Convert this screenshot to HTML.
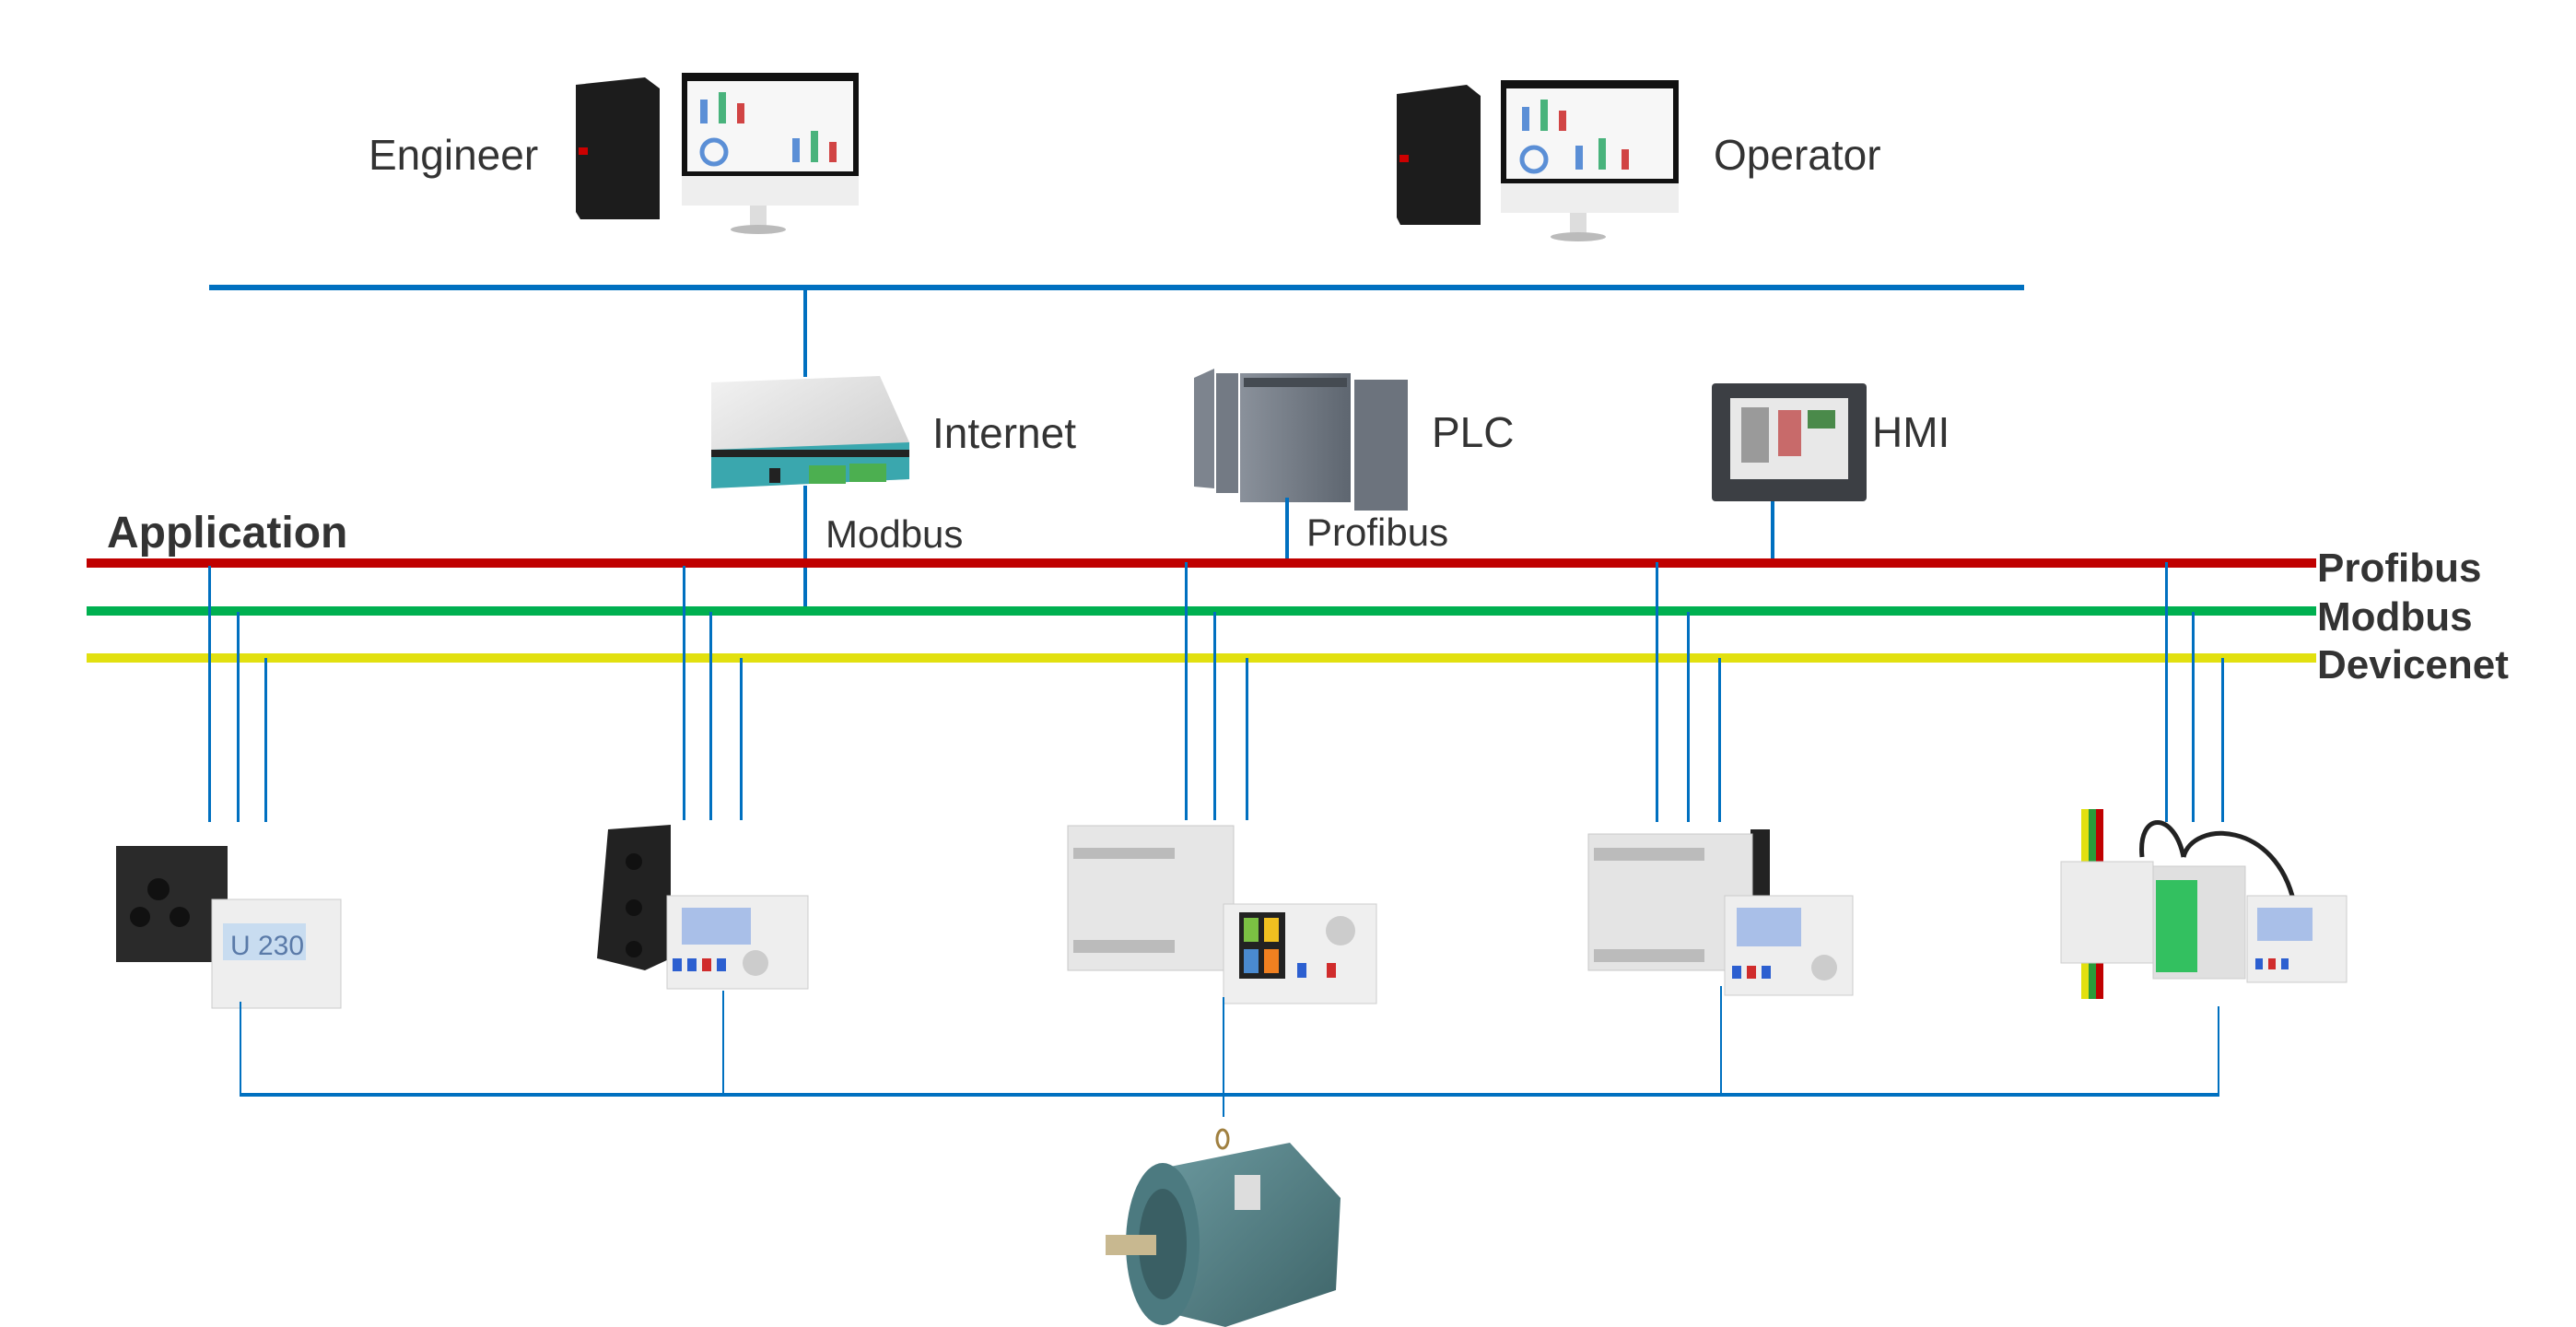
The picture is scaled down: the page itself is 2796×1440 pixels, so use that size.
<!DOCTYPE html>
<html><head><meta charset="utf-8"><style>
html,body{margin:0;padding:0;background:#fff;}
svg{display:block;}
text{font-family:"Liberation Sans",Arial,sans-serif;fill:#333;}
</style></head><body>
<svg width="2796" height="1440" viewBox="0 0 2796 1440" xmlns="http://www.w3.org/2000/svg">
<defs>
<linearGradient id="silver" x1="0" y1="0" x2="1" y2="1"><stop offset="0" stop-color="#f2f2f2"/><stop offset="1" stop-color="#c8c8c8"/></linearGradient>
<linearGradient id="plc" x1="0" y1="0" x2="1" y2="0"><stop offset="0" stop-color="#8a919b"/><stop offset="1" stop-color="#5e6670"/></linearGradient>
<linearGradient id="motor" x1="0" y1="0" x2="1" y2="1"><stop offset="0" stop-color="#6c9aa0"/><stop offset="1" stop-color="#3e6468"/></linearGradient>
</defs>

<!-- Engineer workstation -->
<text x="400" y="184" font-size="46">Engineer</text>
<polygon points="625,92 700,84 716,96 716,238 630,238 625,230" fill="#1c1c1c"/>
<rect x="628" y="160" width="10" height="8" fill="#c00"/>
<rect x="740" y="79" width="192" height="112" fill="#111"/>
<rect x="746" y="88" width="180" height="98" fill="#f7f7f7"/>
<rect x="760" y="108" width="8" height="26" fill="#5b8fd6"/><rect x="780" y="100" width="8" height="34" fill="#49b37c"/><rect x="800" y="112" width="8" height="22" fill="#d14444"/>
<rect x="860" y="150" width="8" height="26" fill="#5b8fd6"/><rect x="880" y="142" width="8" height="34" fill="#49b37c"/><rect x="900" y="154" width="8" height="22" fill="#d14444"/>
<circle cx="775" cy="165" r="13" fill="none" stroke="#5b8fd6" stroke-width="5"/>
<rect x="740" y="191" width="192" height="32" fill="#eeeeee"/>
<rect x="814" y="223" width="18" height="24" fill="#ddd"/>
<ellipse cx="823" cy="249" rx="30" ry="5" fill="#bbb"/>

<!-- Operator workstation -->
<polygon points="1516,102 1592,92 1607,104 1607,244 1520,244 1516,236" fill="#1c1c1c"/>
<rect x="1519" y="168" width="10" height="8" fill="#c00"/>
<rect x="1629" y="87" width="193" height="112" fill="#111"/>
<rect x="1635" y="96" width="181" height="98" fill="#f7f7f7"/>
<rect x="1652" y="116" width="8" height="26" fill="#5b8fd6"/><rect x="1672" y="108" width="8" height="34" fill="#49b37c"/><rect x="1692" y="120" width="8" height="22" fill="#d14444"/>
<rect x="1710" y="158" width="8" height="26" fill="#5b8fd6"/><rect x="1735" y="150" width="8" height="34" fill="#49b37c"/><rect x="1760" y="162" width="8" height="22" fill="#d14444"/>
<circle cx="1665" cy="173" r="13" fill="none" stroke="#5b8fd6" stroke-width="5"/>
<rect x="1629" y="199" width="193" height="32" fill="#eeeeee"/>
<rect x="1704" y="231" width="18" height="24" fill="#ddd"/>
<ellipse cx="1713" cy="257" rx="30" ry="5" fill="#bbb"/>
<text x="1860" y="184" font-size="46">Operator</text>

<!-- top blue bus -->
<rect x="227" y="309" width="1970" height="6" fill="#0070c0"/>
<rect x="872" y="315" width="4" height="94" fill="#0070c0"/>
<rect x="872" y="527" width="4" height="134" fill="#0070c0"/>

<!-- gateway -->
<polygon points="772,415 955,408 987,480 987,520 772,530" fill="url(#silver)"/>
<polygon points="772,488 987,480 987,520 772,530" fill="#3aa7ae"/>
<rect x="772" y="488" width="215" height="8" fill="#222"/>
<rect x="878" y="505" width="40" height="20" fill="#4caf50"/><rect x="922" y="503" width="40" height="20" fill="#4caf50"/>
<rect x="835" y="508" width="12" height="16" fill="#222"/>
<text x="1012" y="486" font-size="46">Internet</text>
<text x="896" y="594" font-size="42">Modbus</text>

<!-- PLC -->
<polygon points="1296,410 1318,400 1318,530 1296,528" fill="#7d848e"/>
<rect x="1320" y="405" width="24" height="130" fill="#737a84"/>
<rect x="1346" y="405" width="120" height="140" fill="url(#plc)"/>
<rect x="1470" y="412" width="58" height="142" fill="#6c737d"/>
<rect x="1350" y="410" width="112" height="10" fill="#454b52"/>
<text x="1554" y="485" font-size="46">PLC</text>
<rect x="1395" y="540" width="4" height="72" fill="#0070c0"/>
<text x="1418" y="592" font-size="42">Profibus</text>

<!-- HMI -->
<rect x="1858" y="416" width="168" height="128" rx="4" fill="#3c3f44"/>
<rect x="1878" y="432" width="128" height="88" fill="#e8e8e8"/>
<rect x="1890" y="442" width="30" height="60" fill="#9a9a9a"/><rect x="1930" y="445" width="25" height="50" fill="#c86a6a"/><rect x="1962" y="445" width="30" height="20" fill="#4a8a4a"/>
<text x="2032" y="485" font-size="46">HMI</text>
<rect x="1922" y="544" width="4" height="68" fill="#0070c0"/>

<!-- field buses -->
<rect x="94" y="606" width="2420" height="10" fill="#c00000"/>
<rect x="94" y="658" width="2420" height="10" fill="#00b050"/>
<rect x="94" y="709" width="2420" height="10" fill="#e2e00f"/>
<text x="116" y="594" font-size="48" font-weight="bold">Application</text>
<text x="2515" y="631" font-size="44" font-weight="bold">Profibus</text>
<text x="2515" y="684" font-size="44" font-weight="bold">Modbus</text>
<text x="2515" y="736" font-size="44" font-weight="bold">Devicenet</text>

<!-- drops -->
<g fill="#0070c0">
<rect x="226" y="614" width="3" height="278"/><rect x="257" y="664" width="3" height="228"/><rect x="287" y="714" width="3" height="178"/>
<rect x="741" y="614" width="3" height="276"/><rect x="770" y="664" width="3" height="226"/><rect x="803" y="714" width="3" height="176"/>
<rect x="1286" y="610" width="3" height="280"/><rect x="1317" y="664" width="3" height="226"/><rect x="1352" y="714" width="3" height="176"/>
<rect x="1797" y="610" width="3" height="282"/><rect x="1831" y="664" width="3" height="228"/><rect x="1865" y="714" width="3" height="178"/>
<rect x="2350" y="610" width="3" height="282"/><rect x="2379" y="664" width="3" height="228"/><rect x="2411" y="714" width="3" height="178"/>
</g>

<!-- device 1 -->
<rect x="126" y="918" width="121" height="126" fill="#2a2a2a"/>
<circle cx="172" cy="965" r="12" fill="#111"/><circle cx="152" cy="995" r="11" fill="#111"/><circle cx="195" cy="995" r="11" fill="#111"/>
<rect x="230" y="976" width="140" height="118" fill="#eeeeee" stroke="#ccc"/>
<rect x="242" y="1002" width="90" height="40" fill="#c8dcf0"/>
<text x="250" y="1036" font-size="30" style="fill:#5a7aa8">U 230</text>
<!-- device 2 -->
<polygon points="660,900 728,895 728,1040 700,1053 648,1040" fill="#222"/>
<circle cx="688" cy="935" r="9" fill="#111"/><circle cx="688" cy="985" r="9" fill="#111"/><circle cx="688" cy="1030" r="9" fill="#111"/>
<rect x="724" y="972" width="153" height="101" fill="#eeeeee" stroke="#ccc"/>
<rect x="740" y="985" width="75" height="40" fill="#a9bfe8"/>
<rect x="730" y="1040" width="10" height="14" fill="#2c5fd0"/><rect x="746" y="1040" width="10" height="14" fill="#2c5fd0"/><rect x="762" y="1040" width="10" height="14" fill="#d02c2c"/><rect x="778" y="1040" width="10" height="14" fill="#2c5fd0"/>
<circle cx="820" cy="1045" r="14" fill="#ccc"/>
<!-- device 3 -->
<rect x="1159" y="896" width="180" height="157" fill="#e6e6e6" stroke="#c8c8c8"/>
<rect x="1165" y="920" width="110" height="12" fill="#bbb"/><rect x="1165" y="1020" width="110" height="14" fill="#bbb"/>
<rect x="1328" y="981" width="166" height="108" fill="#efefef" stroke="#ccc"/>
<rect x="1345" y="990" width="50" height="72" fill="#222"/>
<rect x="1350" y="996" width="16" height="26" fill="#7bc043"/><rect x="1372" y="996" width="16" height="26" fill="#f0c020"/><rect x="1350" y="1030" width="16" height="26" fill="#4a8ad0"/><rect x="1372" y="1030" width="16" height="26" fill="#f08020"/>
<circle cx="1455" cy="1010" r="16" fill="#ccc"/>
<rect x="1408" y="1045" width="10" height="16" fill="#2c5fd0"/><rect x="1440" y="1045" width="10" height="16" fill="#d02c2c"/>
<!-- device 4 -->
<rect x="1900" y="900" width="21" height="150" fill="#222"/>
<rect x="1724" y="905" width="178" height="148" fill="#e4e4e4" stroke="#c8c8c8"/>
<rect x="1730" y="920" width="120" height="14" fill="#bbb"/><rect x="1730" y="1030" width="120" height="14" fill="#bbb"/>
<rect x="1872" y="972" width="139" height="108" fill="#eeeeee" stroke="#ccc"/>
<rect x="1885" y="985" width="70" height="42" fill="#a9bfe8"/>
<rect x="1880" y="1048" width="10" height="14" fill="#2c5fd0"/><rect x="1896" y="1048" width="10" height="14" fill="#d02c2c"/><rect x="1912" y="1048" width="10" height="14" fill="#2c5fd0"/>
<circle cx="1980" cy="1050" r="14" fill="#ccc"/>
<!-- device 5 -->
<rect x="2259" y="878" width="8" height="206" fill="#e2e00f"/><rect x="2267" y="878" width="8" height="206" fill="#2a9a3a"/><rect x="2275" y="878" width="8" height="206" fill="#c00000"/>
<rect x="2237" y="935" width="100" height="110" fill="#ececec" stroke="#ccc"/>
<rect x="2337" y="940" width="100" height="122" fill="#e0e0e0" stroke="#ccc"/>
<rect x="2340" y="955" width="45" height="100" fill="#33c060"/>
<path d="M2325,930 C2320,880 2360,880 2370,930 M2370,930 C2380,890 2470,890 2490,980" fill="none" stroke="#222" stroke-width="5"/>
<rect x="2439" y="972" width="108" height="94" fill="#eeeeee" stroke="#ccc"/>
<rect x="2450" y="985" width="60" height="36" fill="#a9bfe8"/>
<rect x="2448" y="1040" width="8" height="12" fill="#2c5fd0"/><rect x="2462" y="1040" width="8" height="12" fill="#d02c2c"/><rect x="2476" y="1040" width="8" height="12" fill="#2c5fd0"/>

<!-- bottom bus -->
<g fill="#0070c0">
<rect x="260" y="1087" width="2" height="101"/>
<rect x="784" y="1075" width="2" height="113"/>
<rect x="1327" y="1082" width="2" height="130"/>
<rect x="1867" y="1070" width="2" height="118"/>
<rect x="2407" y="1092" width="2" height="96"/>
<rect x="260" y="1186" width="2149" height="4"/>
</g>

<!-- motor -->
<ellipse cx="1327" cy="1236" rx="6" ry="10" fill="none" stroke="#a08040" stroke-width="3"/>
<polygon points="1250,1270 1400,1240 1455,1300 1450,1400 1330,1440 1250,1420" fill="url(#motor)"/>
<ellipse cx="1262" cy="1350" rx="40" ry="88" fill="#4c7a80"/>
<ellipse cx="1262" cy="1350" rx="26" ry="60" fill="#3a5f64"/>
<rect x="1200" y="1340" width="55" height="22" fill="#c8b890"/>
<rect x="1340" y="1275" width="28" height="38" fill="#ddd"/>
</svg>
</body></html>
